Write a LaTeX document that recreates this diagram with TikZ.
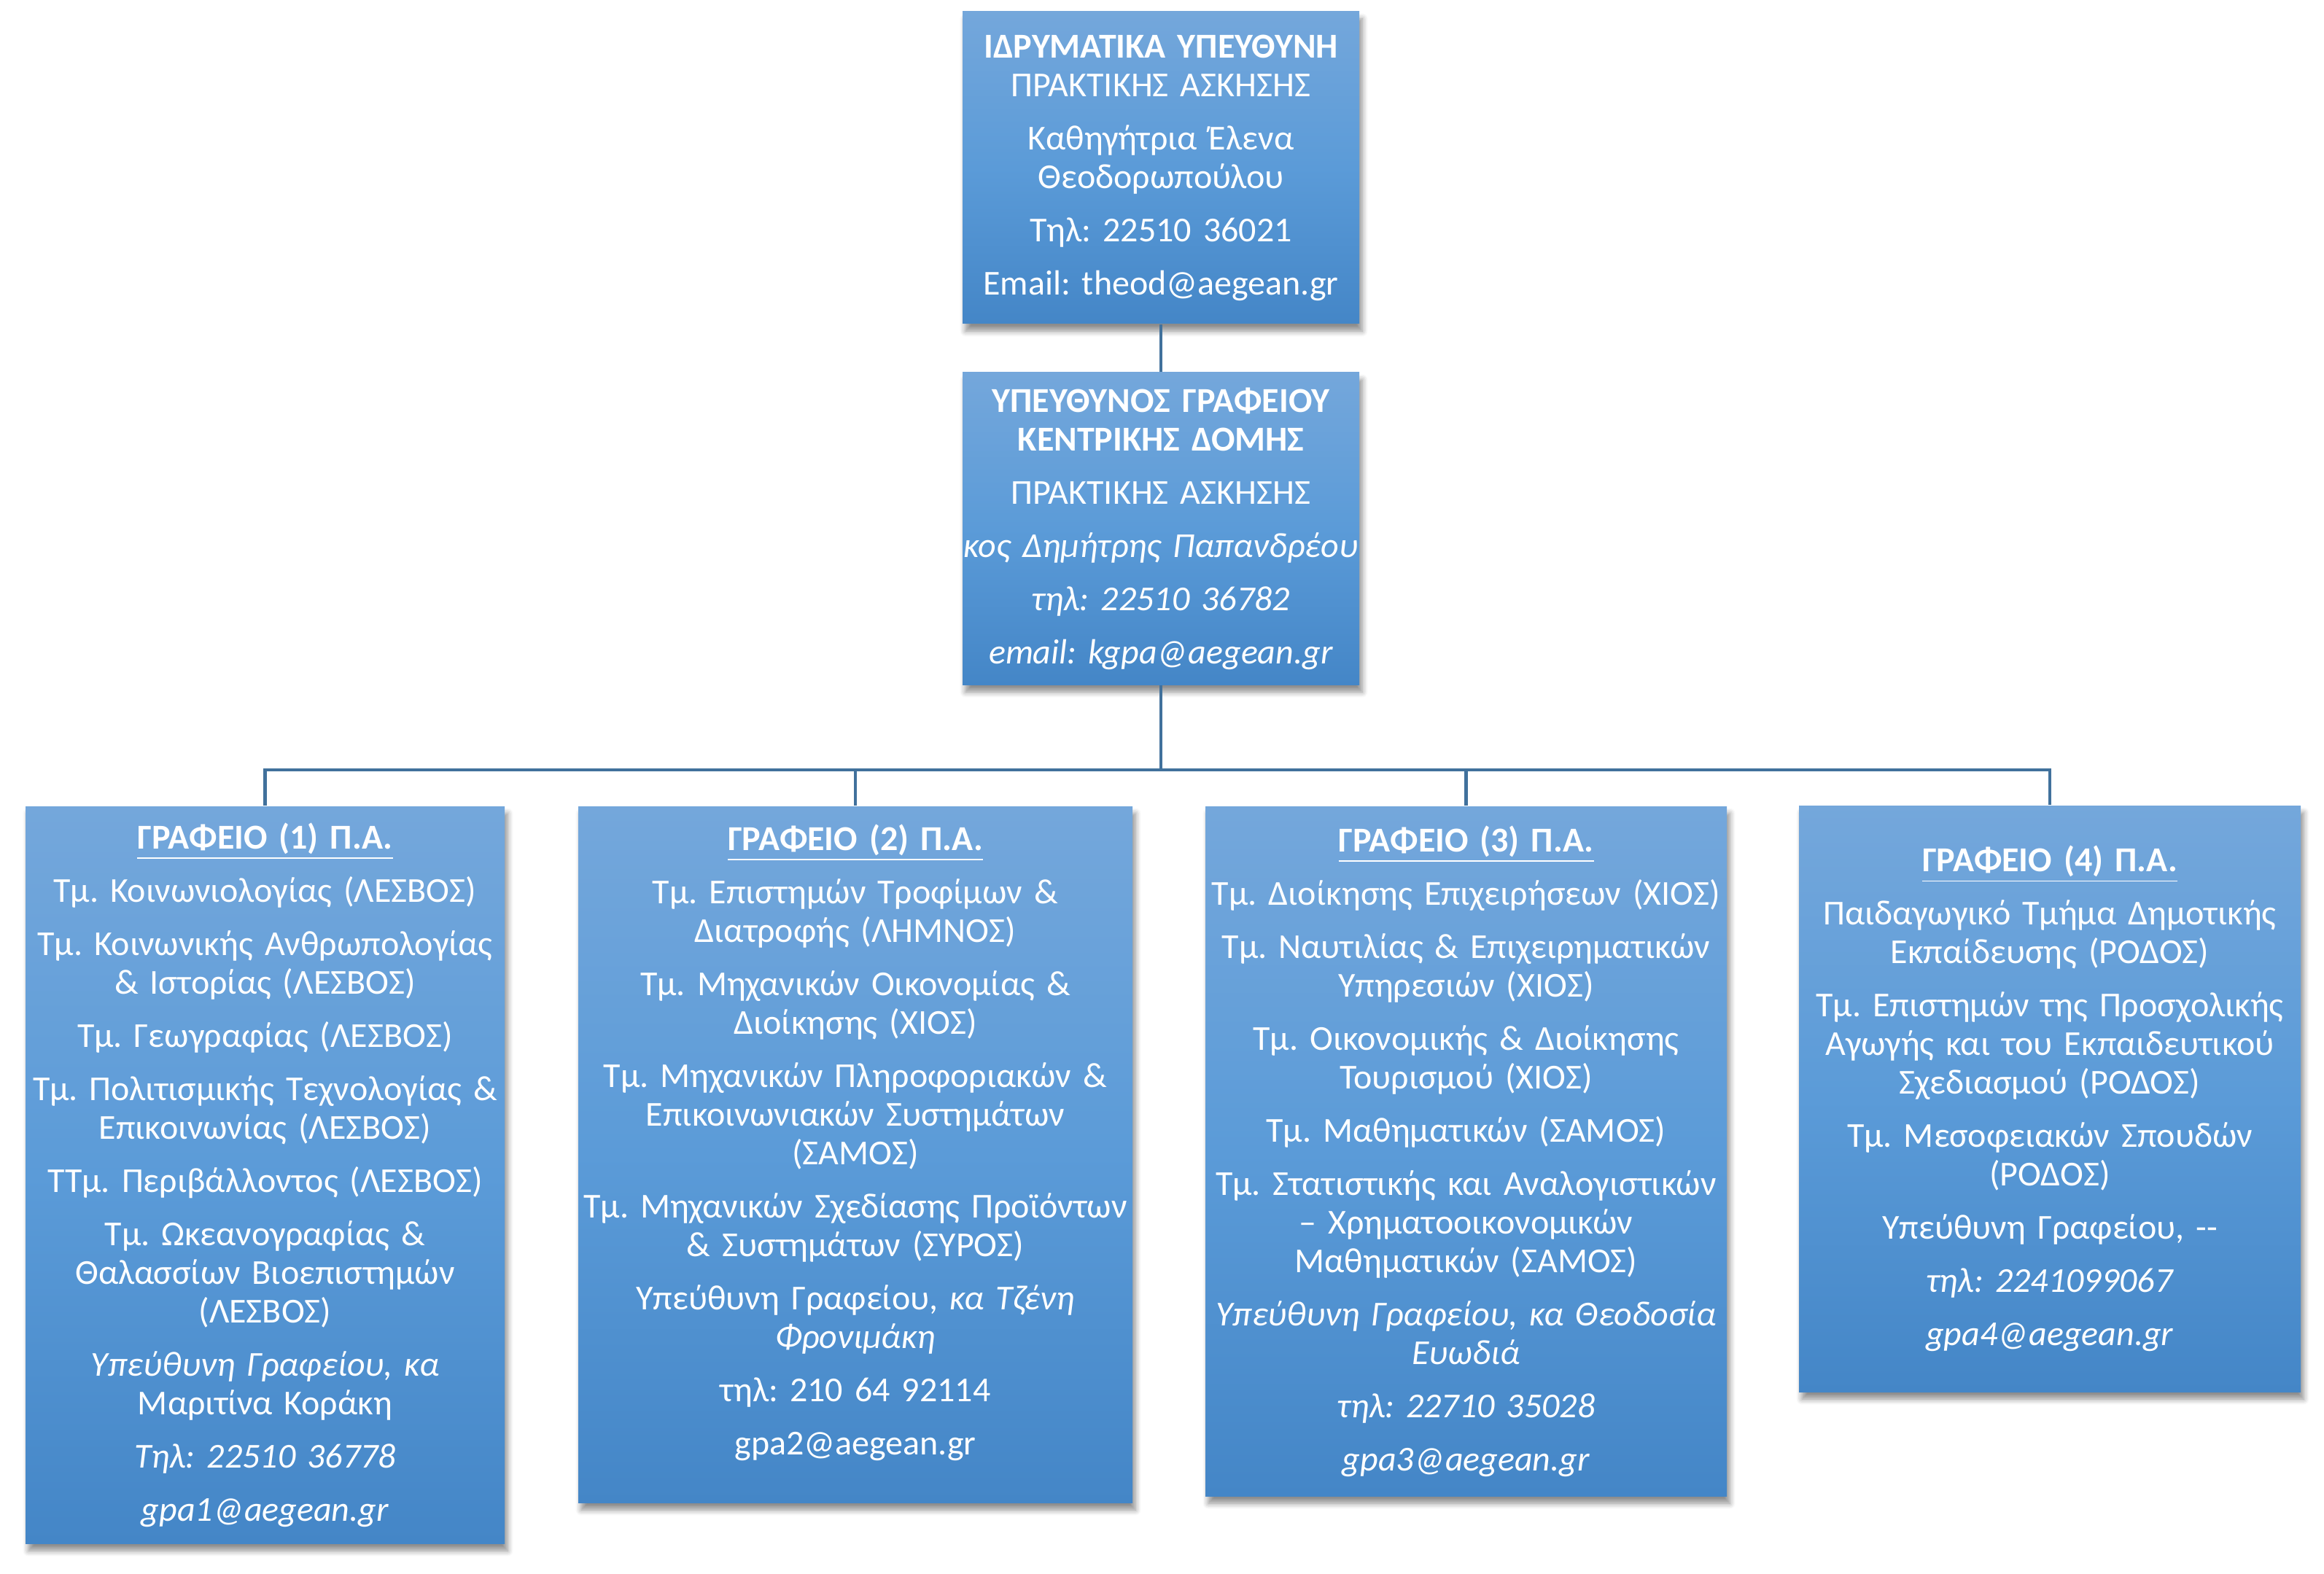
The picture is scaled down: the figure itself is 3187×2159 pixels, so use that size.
\documentclass[tikz,border=0pt]{standalone}
\usepackage{fontspec}
\setmainfont{Carlito}
\usepackage{tikz}
\usetikzlibrary{shadows,shadows.blur,positioning}
\frenchspacing

\definecolor{gtop}{RGB}{116,167,219}
\definecolor{gmid}{RGB}{91,155,216}
\definecolor{gbot}{RGB}{68,134,199}
\definecolor{linkblue}{RGB}{65,113,156}

\begin{document}
\begin{tikzpicture}[x=0.25pt, y=-0.25pt]
				\tikzstyle{Box} 	= [draw=none, rectangle, inner sep=0pt, align=center, text=white,
								   top color=gtop, bottom color=gbot, middle color=gmid,
								   font=\fontsize{12}{13.25}\selectfont,
								   blur shadow={shadow xshift=1pt, shadow yshift=-2.5pt, shadow blur steps=6, shadow opacity=45}]
				\tikzstyle{Link}	= [draw=linkblue, line width=1.2pt]
				
				\useasboundingbox (0,0) rectangle (3187,2159);
				
				\node (ir) at (1592, 230) [Box, text width=136pt, minimum height=107pt] {%
					\textbf{ΙΔΡΥΜΑΤΙΚΑ ΥΠΕΥΘΥΝΗ}\\ ΠΡΑΚΤΙΚΗΣ ΑΣΚΗΣΗΣ\\[5pt]
					Καθηγήτρια Έλενα\\ Θεοδορωπούλου\\[5pt]
					Τηλ: 22510 36021\\[5pt]
					Email: theod@aegean.gr};
				
				\node (kg) at (1592, 725) [Box, text width=136pt, minimum height=107pt] {%
					\textbf{ΥΠΕΥΘΥΝΟΣ ΓΡΑΦΕΙΟΥ}\\ \textbf{ΚΕΝΤΡΙΚΗΣ ΔΟΜΗΣ}\\[5pt]
					ΠΡΑΚΤΙΚΗΣ ΑΣΚΗΣΗΣ\\[5pt]
					\textit{κος Δημήτρης Παπανδρέου}\\[5pt]
					\textit{τηλ: 22510 36782}\\[5pt]
					\textit{email: kgpa@aegean.gr}};
				
				\node (g1) at (363.5, 1611.5) [Box, text width=164.25pt, minimum height=252.75pt] {%
					\underline{\textbf{ΓΡΑΦΕΙΟ (1) Π.Α.}}\\[5pt]
					Τμ. Κοινωνιολογίας (ΛΕΣΒΟΣ)\\[5pt]
					Τμ. Κοινωνικής Ανθρωπολογίας\\ \& Ιστορίας (ΛΕΣΒΟΣ)\\[5pt]
					Τμ. Γεωγραφίας (ΛΕΣΒΟΣ)\\[5pt]
					Τμ. Πολιτισμικής Τεχνολογίας \&\\ Επικοινωνίας (ΛΕΣΒΟΣ)\\[5pt]
					ΤΤμ. Περιβάλλοντος (ΛΕΣΒΟΣ)\\[5pt]
					Τμ. Ωκεανογραφίας \&\\ Θαλασσίων Βιοεπιστημών\\ (ΛΕΣΒΟΣ)\\[5pt]
					\textit{Υπεύθυνη Γραφείου, κα}\\ Μαριτίνα Κοράκη\\[5pt]
					\textit{Τηλ: 22510 36778}\\[5pt]
					\textit{gpa1@aegean.gr}};
				
				\node (g2) at (1173, 1583.5) [Box, text width=190pt, minimum height=238.75pt] {%
					\underline{\textbf{ΓΡΑΦΕΙΟ (2) Π.Α.}}\\[5pt]
					Τμ. Επιστημών Τροφίμων \&\\ Διατροφής (ΛΗΜΝΟΣ)\\[5pt]
					Τμ. Μηχανικών Οικονομίας \&\\ Διοίκησης (ΧΙΟΣ)\\[5pt]
					Τμ. Μηχανικών Πληροφοριακών \&\\ Επικοινωνιακών Συστημάτων\\ (ΣΑΜΟΣ)\\[5pt]
					Τμ. Μηχανικών Σχεδίασης Προϊόντων\\ \& Συστημάτων (ΣΥΡΟΣ)\\[5pt]
					Υπεύθυνη Γραφείου, \textit{κα Τζένη}\\ \textit{Φρονιμάκη}\\[5pt]
					τηλ: 210 64 92114\\[5pt]
					gpa2@aegean.gr\\[-3pt]\mbox{}};
				
				\node (g3) at (2010.5, 1579) [Box, text width=178.75pt, minimum height=236.5pt] {%
					\underline{\textbf{ΓΡΑΦΕΙΟ (3) Π.Α.}}\\[5pt]
					Τμ. Διοίκησης Επιχειρήσεων (ΧΙΟΣ)\\[5pt]
					Τμ. Ναυτιλίας \& Επιχειρηματικών\\ Υπηρεσιών (ΧΙΟΣ)\\[5pt]
					Τμ. Οικονομικής \& Διοίκησης\\ Τουρισμού (ΧΙΟΣ)\\[5pt]
					Τμ. Μαθηματικών (ΣΑΜΟΣ)\\[5pt]
					Τμ. Στατιστικής και Αναλογιστικών\\ – Χρηματοοικονομικών\\ Μαθηματικών (ΣΑΜΟΣ)\\[5pt]
					\textit{Υπεύθυνη Γραφείου, κα Θεοδοσία}\\ \textit{Ευωδιά}\\[5pt]
					\textit{τηλ: 22710 35028}\\[5pt]
					\textit{gpa3@aegean.gr}};
				
				\node (g4) at (2811, 1507) [Box, text width=172pt, minimum height=201pt] {%
					\underline{\textbf{ΓΡΑΦΕΙΟ (4) Π.Α.}}\\[5pt]
					Παιδαγωγικό Τμήμα Δημοτικής\\ Εκπαίδευσης (ΡΟΔΟΣ)\\[5pt]
					Τμ. Επιστημών της Προσχολικής\\ Αγωγής και του Εκπαιδευτικού\\ Σχεδιασμού (ΡΟΔΟΣ)\\[5pt]
					Τμ. Μεσοφειακών Σπουδών\\ (ΡΟΔΟΣ)\\[5pt]
					Υπεύθυνη Γραφείου, -{}-\\[5pt]
					\textit{τηλ: 2241099067}\\[5pt]
					\textit{gpa4@aegean.gr}};
				
				\coordinate (bus) at (1592, 1056);
				
				\draw [Link] (ir) -- (kg);
				\draw [Link] (kg) -- (bus);
				\foreach \g in {g1, g2, g3, g4}
					\draw [Link] (bus) -| (\g.north);
			\end{tikzpicture}
\end{document}
